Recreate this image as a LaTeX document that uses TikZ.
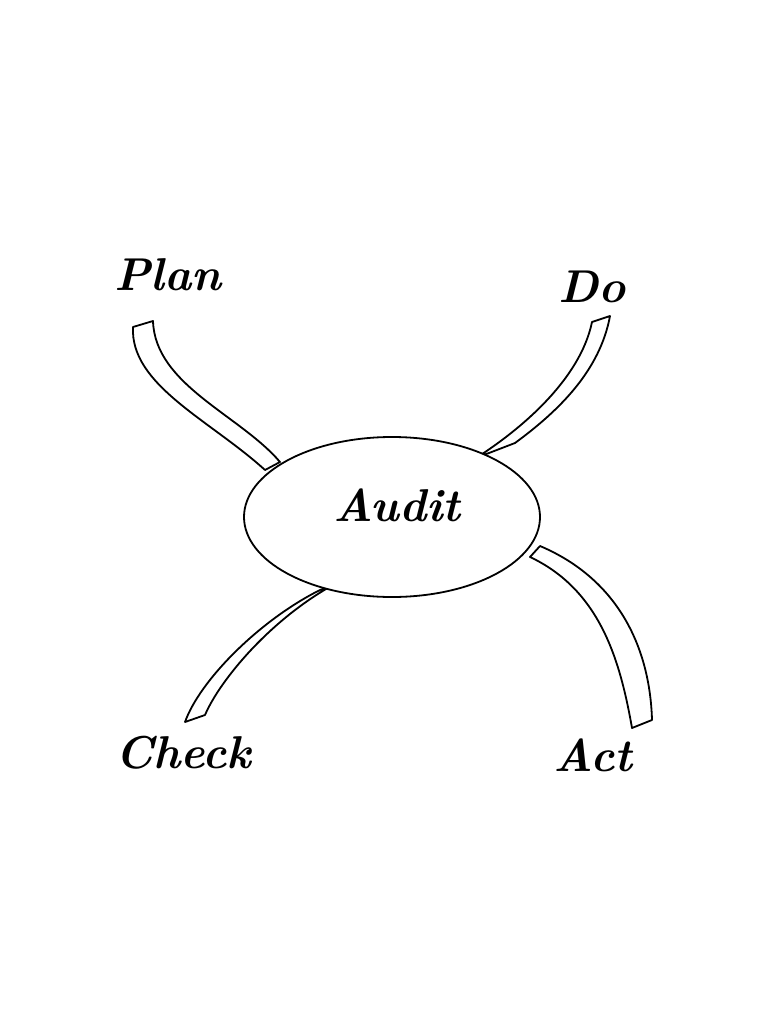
\documentclass[tikz,border=0pt]{standalone}
\usetikzlibrary{shapes.geometric}
\begin{document}
\begin{tikzpicture}[x=1pt,y=-1pt,
  lbl/.style={font=\fontsize{46}{52}\selectfont\bfseries\itshape},
  ribbon/.style={draw=black,fill=white,line width=1.8pt,line join=round}]
\useasboundingbox (0,0) rectangle (768,1024);
\draw[ribbon] (133,327) .. controls (130,385) and (210,420) .. (265,470) -- (280,462) .. controls (240,415) and (155,385) .. (153,321) -- cycle;
\draw[ribbon] (592,322) .. controls (580,380) and (520,430) .. (476,458) -- (515,443) .. controls (560,410) and (600,370) .. (610,316) -- cycle;
\draw[ribbon] (530,557) .. controls (600,590) and (620,660) .. (632,728) -- (652,720) .. controls (650,650) and (620,580) .. (540,546) -- cycle;
\draw[ribbon] (320,590) .. controls (260,620) and (200,680) .. (185,722) -- (205,715) .. controls (220,680) and (270,620) .. (333,585) -- cycle;
\node[draw,ellipse,line width=1.8pt,fill=white,minimum width=296pt,minimum height=160pt] (audit) at (392,517) {};
\node[lbl] (t) at (397,505) {Audit};
\node[lbl] (plan) at (168,275) {Plan};
\node[lbl] (do) at (592,287) {Do};
\node[lbl] (check) at (183,753) {Check};
\node[lbl] (act) at (593,755) {Act};
\end{tikzpicture}
\end{document}
